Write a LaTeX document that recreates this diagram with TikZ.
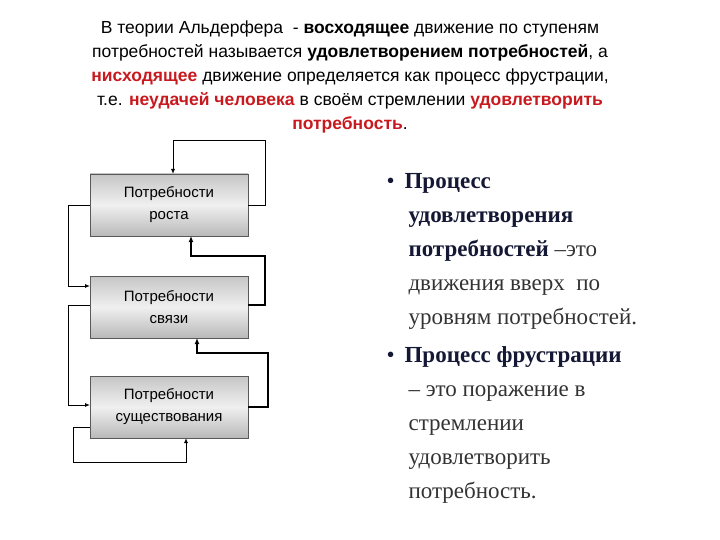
\documentclass[tikz,border=0pt]{standalone}
\usepackage{fontspec}
\setmainfont{Liberation Sans}
\newfontfamily\serifm{Liberation Serif}
\usetikzlibrary{arrows.meta}
\definecolor{rd}{RGB}{200,25,30}
\definecolor{navy}{RGB}{25,30,65}
\begin{document}
\begin{tikzpicture}[x=1pt,y=-1pt,
  box/.style={draw=gray!70!black,line width=0.8pt,minimum width=158pt,minimum height=62pt,align=center,
    top color=gray!45,bottom color=gray!55,middle color=gray!12,font=\fontsize{15}{22}\selectfont},
  ln/.style={line width=0.9pt,-{Latex[length=5pt,width=4pt]}},
  tk/.style={line width=2pt,-{Latex[length=6pt,width=5pt]}}]
\useasboundingbox (0,0) rectangle (720,540);
\node[align=center,font=\fontsize{17.5}{24}\selectfont] (title) at (350,77) {В теории Альдерфера \;- \textbf{восходящее} движение по ступеням\\
потребностей называется \textbf{удовлетворением потребностей}, а\\
\textcolor{rd}{\textbf{нисходящее}} движение определяется как процесс фрустрации,\\
т.е. \textcolor{rd}{\textbf{неудачей человека}} в своём стремлении \textcolor{rd}{\textbf{удовлетворить}}\\
\textcolor{rd}{\textbf{потребность}}.};
\node[box] (a) at (169,205) {Потребности\\роста};
\node[box] (b) at (169,307) {Потребности\\связи};
\node[box] (c) at (169,407) {Потребности\\существования};
\coordinate (a1) at (248,205);\coordinate (a2) at (90,205);
\draw[ln] (a1) -- (265,205) -- (265,140) -- (173,140) -- (173,174);
\draw[ln] (a2) -- (68,205) -- (68,286) -- (90,286);
\draw[ln] (90,305) -- (68,305) -- (68,405) -- (90,405);
\draw[ln] (90,427) -- (73,427) -- (73,462) -- (186,462) -- (186,438);
\draw[tk] (248,407) -- (268,407) -- (268,353) -- (197,353) -- (197,338);
\draw[tk] (248,305) -- (265,305) -- (265,256) -- (191,256) -- (191,236);
\node[anchor=north west,align=left,font=\serifm\fontsize{23}{34}\selectfont,text=navy!80!black] (t1) at (383,170)
 {•\hspace{10pt}\textbf{Процесс}\\ \hspace{22pt}\textbf{удовлетворения}\\ \hspace{22pt}\textbf{потребностей} \textcolor{black!80}{–это}\\ \hspace{22pt}\textcolor{black!80}{движения вверх\ \ по}\\ \hspace{22pt}\textcolor{black!80}{уровням потребностей.}};
\node[anchor=north west,align=left,font=\serifm\fontsize{23}{34}\selectfont,text=navy!80!black] (t2) at (383,343)
 {•\hspace{10pt}\textbf{Процесс фрустрации}\\ \hspace{22pt}\textcolor{black!80}{– это поражение в}\\ \hspace{22pt}\textcolor{black!80}{стремлении}\\ \hspace{22pt}\textcolor{black!80}{удовлетворить}\\ \hspace{22pt}\textcolor{black!80}{потребность.}};
\end{tikzpicture}
\end{document}
